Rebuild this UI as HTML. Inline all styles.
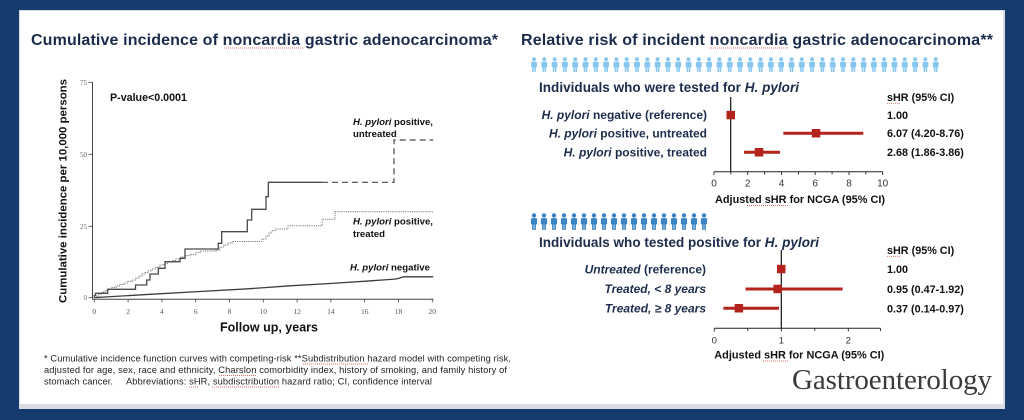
<!DOCTYPE html>
<html>
<head>
<meta charset="utf-8">
<style>
  html,body{margin:0;padding:0;background:#163b6d;}
  svg{display:block;}
  .sans{font-family:"Liberation Sans",Arial,sans-serif;}
  .serif{font-family:"Liberation Serif","Times New Roman",serif;}
</style>
</head>
<body>
<svg width="1024" height="420" viewBox="0 0 1024 420" xmlns="http://www.w3.org/2000/svg">
  <defs>
    <pattern id="p1" x="529" y="57" width="10.3" height="16" patternUnits="userSpaceOnUse">
      <g fill="#86c6ef">
        <circle cx="5" cy="2.2" r="2"/>
        <path d="M2.1,5.8 Q2.1,4.7 3.2,4.7 H6.8 Q7.9,4.7 7.9,5.8 V10.2 H6.8 V15 H5.3 V10.6 H4.7 V15 H3.2 V10.2 H2.1Z"/>
      </g>
    </pattern>
    <pattern id="p2" x="529" y="213" width="10" height="18" patternUnits="userSpaceOnUse">
      <g fill="#3a84c4">
        <circle cx="5" cy="2.4" r="2.2"/>
        <path d="M1.9,6.3 Q1.9,5.1 3.1,5.1 H6.9 Q8.1,5.1 8.1,6.3 V11.2 H6.9 V17 H5.3 V11.6 H4.7 V17 H3.1 V11.2 H1.9Z"/>
      </g>
    </pattern>
  </defs>

  <!-- background & panel -->
  <rect x="0" y="0" width="1024" height="420" fill="#163b6d"/>
  <rect x="19" y="10" width="986" height="399" fill="#d9dce1"/>
  <rect x="20" y="11" width="983" height="393" fill="#ffffff"/>

  <!-- Titles -->
  <text class="sans" x="31" y="45" font-size="16" font-weight="bold" fill="#1b2c4b" textLength="467">Cumulative incidence of noncardia gastric adenocarcinoma*</text>
  <text class="sans" x="521" y="45" font-size="16" font-weight="bold" fill="#1b2c4b" textLength="472">Relative risk of incident noncardia gastric adenocarcinoma**</text>
  <line x1="224" y1="48" x2="303" y2="48" stroke="#e0403a" stroke-width="0.8" stroke-dasharray="1,1"/>
  <line x1="709" y1="48" x2="789" y2="48" stroke="#e0403a" stroke-width="0.8" stroke-dasharray="1,1"/>

  <!-- ===== Left chart ===== -->
  <text class="sans" transform="translate(66.5,191) rotate(-90)" text-anchor="middle" font-size="11.4" font-weight="bold" fill="#111" textLength="224">Cumulative incidence per 10,000 persons</text>

  <!-- y axis -->
  <line x1="92.5" y1="82" x2="92.5" y2="299.5" stroke="#444" stroke-width="1"/>
  <g stroke="#444" stroke-width="0.8">
    <line x1="88.5" y1="82.3" x2="92.5" y2="82.3"/>
    <line x1="88.5" y1="154.3" x2="92.5" y2="154.3"/>
    <line x1="88.5" y1="226.3" x2="92.5" y2="226.3"/>
    <line x1="88.5" y1="297.7" x2="92.5" y2="297.7"/>
  </g>
  <g class="serif" font-size="7" fill="#666" text-anchor="end">
    <text x="87" y="84.8">75</text>
    <text x="87" y="156.8">50</text>
    <text x="87" y="228.8">25</text>
    <text x="87" y="300.2">0</text>
  </g>

  <!-- x axis -->
  <line x1="92.5" y1="299.3" x2="433.5" y2="299.3" stroke="#444" stroke-width="1"/>
  <g stroke="#444" stroke-width="0.8">
    <line x1="94.3" y1="299.3" x2="94.3" y2="302.5"/>
    <line x1="128.1" y1="299.3" x2="128.1" y2="302.5"/>
    <line x1="161.9" y1="299.3" x2="161.9" y2="302.5"/>
    <line x1="195.7" y1="299.3" x2="195.7" y2="302.5"/>
    <line x1="229.5" y1="299.3" x2="229.5" y2="302.5"/>
    <line x1="263.3" y1="299.3" x2="263.3" y2="302.5"/>
    <line x1="297.1" y1="299.3" x2="297.1" y2="302.5"/>
    <line x1="330.9" y1="299.3" x2="330.9" y2="302.5"/>
    <line x1="364.7" y1="299.3" x2="364.7" y2="302.5"/>
    <line x1="398.5" y1="299.3" x2="398.5" y2="302.5"/>
    <line x1="432.3" y1="299.3" x2="432.3" y2="302.5"/>
  </g>
  <g class="serif" font-size="7.5" fill="#555" text-anchor="middle">
    <text x="94.3" y="314.2">0</text>
    <text x="128.1" y="314.2">2</text>
    <text x="161.9" y="314.2">4</text>
    <text x="195.7" y="314.2">6</text>
    <text x="229.5" y="314.2">8</text>
    <text x="263.3" y="314.2">10</text>
    <text x="297.1" y="314.2">12</text>
    <text x="330.9" y="314.2">14</text>
    <text x="364.7" y="314.2">16</text>
    <text x="398.5" y="314.2">18</text>
    <text x="432.3" y="314.2">20</text>
  </g>
  <text class="sans" x="269" y="331.5" text-anchor="middle" font-size="12.5" font-weight="bold" fill="#111">Follow up, years</text>

  <text class="sans" x="110" y="101" font-size="10.7" font-weight="bold" fill="#111">P-value&lt;0.0001</text>

  <!-- curves -->
  <!-- negative -->
  <path d="M94.3,297.6 L150,294.3 L200,291.5 L250,288.7 L290,285.8 L330,283.5 L373,280.7 L396,279 L404,276.8 L433.3,276.8" fill="none" stroke="#3d3d3d" stroke-width="1.3"/>
  <!-- treated (dotted) -->
  <path d="M94.3,297.7 L96,296 H99 V294 H102 V292 H105 V290.5 H108 V289 H112 V287.5 H116 V286 H120 V284.5 H124 V283 H128 V281.5 H132 V280 H136 V278 H139 V276 H142 V274 H145 V272.5 H148 V271 H152 V269 H156 V267 H160 V265 H164 V263.5 H168 V262 H172 V260.5 H176 V259 H181 V257 H186 V255.5 H190 V254.5 H196 V252.5 H200 V251 H216 V250 H220 V247 H224 V245 H228 V243 H232 V241.5 H262 V239 H266 V236 H269 V233 H272 V230.5 H276 V229 H288 V225.7 H322 V219.3 H335 V211.7 H433.3" fill="none" stroke="#7a7a7a" stroke-width="1" stroke-dasharray="1.2,1"/>
  <!-- untreated solid part -->
  <path d="M94.3,297.7 V295.5 H95.5 V293.3 H107.7 V289.3 H135.5 V285 H146.7 V280 H150 V274 H158.3 V268.3 H165 V261.7 H180 V258.3 H185 V249 H218.3 V243.3 H221.7 V231.7 H247.3 V220 H251.7 V209.3 H266 V196.7 H268.3 V182.3 H322" fill="none" stroke="#4a4a4a" stroke-width="1.3"/>
  <!-- untreated dashed part -->
  <path d="M322,182.3 H394 V140 H433.3" fill="none" stroke="#4a4a4a" stroke-width="1.2" stroke-dasharray="6,4"/>

  <!-- curve labels -->
  <g class="sans" font-size="9.6" font-weight="bold" fill="#111">
    <text x="353" y="125"><tspan font-style="italic">H. pylori</tspan> positive,</text>
    <text x="353" y="137">untreated</text>
    <text x="353" y="224.5"><tspan font-style="italic">H. pylori</tspan> positive,</text>
    <text x="353" y="237">treated</text>
    <text x="350" y="270.5"><tspan font-style="italic">H. pylori</tspan> negative</text>
  </g>

  <!-- footnote -->
  <g class="sans" font-size="9.3" fill="#222">
    <text x="44" y="361.5" textLength="467">* Cumulative incidence function curves with competing-risk **Subdistribution hazard model with competing risk,</text>
    <text x="44" y="373" textLength="463">adjusted for age, sex, race and ethnicity, Charslon comorbidity index, history of smoking, and family history of</text>
    <text x="44" y="384.7" textLength="69">stomach cancer.</text>
    <text x="126" y="384.7" textLength="306">Abbreviations: sHR, subdisctribution hazard ratio; CI, confidence interval</text>
  </g>
  <g stroke="#e0403a" stroke-width="0.7" stroke-dasharray="1,1">
    <line x1="303" y1="364" x2="368" y2="364"/>
    <line x1="219" y1="375.5" x2="257" y2="375.5"/>
    <line x1="189" y1="387" x2="199" y2="387"/>
    <line x1="212" y1="387" x2="280" y2="387"/>
  </g>

  <!-- ===== Forest plot 1 ===== -->
  <rect x="529" y="57" width="413" height="16" fill="url(#p1)"/>
  <text class="sans" x="539" y="92" font-size="13.5" font-weight="bold" fill="#1b2c4b" textLength="260">Individuals who were tested for <tspan font-style="italic">H. pylori</tspan></text>

  <g class="sans" font-size="12" font-weight="bold" fill="#1c2d4c" text-anchor="end">
    <text x="707" y="119.2"><tspan font-style="italic">H. pylori</tspan> negative (reference)</text>
    <text x="707" y="137.5"><tspan font-style="italic">H. pylori</tspan> positive, untreated</text>
    <text x="707" y="156.5"><tspan font-style="italic">H. pylori</tspan> positive, treated</text>
  </g>

  <line x1="730.7" y1="97" x2="730.7" y2="171.7" stroke="#111" stroke-width="1.2"/>
  <g fill="#b3241d" stroke="#b3241d">
    <rect x="726.5" y="110.8" width="8.5" height="8.5" stroke="none"/>
    <line x1="783.3" y1="133.3" x2="863.3" y2="133.3" stroke-width="3"/>
    <rect x="811.8" y="129" width="8.5" height="8.5" stroke="none"/>
    <line x1="744" y1="152.3" x2="780" y2="152.3" stroke-width="3"/>
    <rect x="754.8" y="148" width="8.5" height="8.5" stroke="none"/>
  </g>

  <line x1="714" y1="171.7" x2="882.7" y2="171.7" stroke="#222" stroke-width="1"/>
  <g stroke="#222" stroke-width="0.9">
    <line x1="714" y1="171.7" x2="714" y2="175"/>
    <line x1="730.9" y1="171.7" x2="730.9" y2="174.5"/>
    <line x1="747.7" y1="171.7" x2="747.7" y2="175"/>
    <line x1="764.6" y1="171.7" x2="764.6" y2="174.5"/>
    <line x1="781.5" y1="171.7" x2="781.5" y2="175"/>
    <line x1="798.4" y1="171.7" x2="798.4" y2="174.5"/>
    <line x1="815.2" y1="171.7" x2="815.2" y2="175"/>
    <line x1="832.1" y1="171.7" x2="832.1" y2="174.5"/>
    <line x1="849" y1="171.7" x2="849" y2="175"/>
    <line x1="865.8" y1="171.7" x2="865.8" y2="174.5"/>
    <line x1="882.7" y1="171.7" x2="882.7" y2="175"/>
  </g>
  <g class="sans" font-size="10" fill="#333" text-anchor="middle">
    <text x="714" y="186.3">0</text>
    <text x="747.7" y="186.3">2</text>
    <text x="781.5" y="186.3">4</text>
    <text x="815.2" y="186.3">6</text>
    <text x="849" y="186.3">8</text>
    <text x="882.7" y="186.3">10</text>
  </g>
  <text class="sans" x="715" y="203" font-size="10.9" font-weight="bold" fill="#111" textLength="170">Adjusted sHR for NCGA (95% CI)</text>
  <line x1="747" y1="205.5" x2="788" y2="205.5" stroke="#e0403a" stroke-width="0.7" stroke-dasharray="1,1"/>

  <g class="sans" font-size="10.8" font-weight="bold" fill="#111">
    <text x="887" y="101">sHR (95% CI)</text>
    <text x="887" y="119">1.00</text>
    <text x="887" y="137.2">6.07 (4.20-8.76)</text>
    <text x="887" y="156.2">2.68 (1.86-3.86)</text>
  </g>
  <line x1="887" y1="103.3" x2="900" y2="103.3" stroke="#e0403a" stroke-width="0.7" stroke-dasharray="1,1"/>

  <!-- ===== Forest plot 2 ===== -->
  <rect x="529" y="213" width="180" height="18" fill="url(#p2)"/>
  <text class="sans" x="539" y="247" font-size="13.5" font-weight="bold" fill="#1b2c4b" textLength="280">Individuals who tested positive for <tspan font-style="italic">H. pylori</tspan></text>

  <g class="sans" font-size="12" font-weight="bold" fill="#1c2d4c" text-anchor="end">
    <text x="706" y="273.3"><tspan font-style="italic">Untreated</tspan> (reference)</text>
    <text x="706" y="293" font-style="italic">Treated, &lt; 8 years</text>
    <text x="706" y="312.5" font-style="italic">Treated, ≥ 8 years</text>
  </g>

  <line x1="781.3" y1="250" x2="781.3" y2="328.3" stroke="#111" stroke-width="1.2"/>
  <g fill="#b3241d" stroke="#b3241d">
    <rect x="777" y="264.8" width="8.5" height="8.5" stroke="none"/>
    <line x1="745.5" y1="289" x2="842.6" y2="289" stroke-width="3"/>
    <rect x="773.4" y="284.7" width="8.5" height="8.5" stroke="none"/>
    <line x1="723.4" y1="308.3" x2="779" y2="308.3" stroke-width="3"/>
    <rect x="734.6" y="304" width="8.5" height="8.5" stroke="none"/>
  </g>

  <line x1="714.3" y1="328.3" x2="880.5" y2="328.3" stroke="#222" stroke-width="1"/>
  <g stroke="#222" stroke-width="0.9">
    <line x1="714.3" y1="328.3" x2="714.3" y2="331.5"/>
    <line x1="747.8" y1="328.3" x2="747.8" y2="331"/>
    <line x1="781.3" y1="328.3" x2="781.3" y2="331.5"/>
    <line x1="814.8" y1="328.3" x2="814.8" y2="331"/>
    <line x1="848.3" y1="328.3" x2="848.3" y2="331.5"/>
    <line x1="880.5" y1="328.3" x2="880.5" y2="331"/>
  </g>
  <g class="sans" font-size="9.5" fill="#333" text-anchor="middle">
    <text x="714.3" y="343.5">0</text>
    <text x="781.3" y="343.5">1</text>
    <text x="848.3" y="343.5">2</text>
  </g>
  <text class="sans" x="714.3" y="358.5" font-size="10.9" font-weight="bold" fill="#111" textLength="170">Adjusted sHR for NCGA (95% CI)</text>
  <line x1="763" y1="361" x2="788" y2="361" stroke="#e0403a" stroke-width="0.7" stroke-dasharray="1,1"/>

  <g class="sans" font-size="10.8" font-weight="bold" fill="#111">
    <text x="887" y="254">sHR (95% CI)</text>
    <text x="887" y="273">1.00</text>
    <text x="887" y="292.8">0.95 (0.47-1.92)</text>
    <text x="887" y="312.3">0.37 (0.14-0.97)</text>
  </g>
  <line x1="887" y1="256.3" x2="900" y2="256.3" stroke="#e0403a" stroke-width="0.7" stroke-dasharray="1,1"/>

  <!-- logo -->
  <text class="serif" x="792" y="389" font-size="29" fill="#3a3a3a" textLength="200">Gastroenterology</text>
</svg>
</body>
</html>
